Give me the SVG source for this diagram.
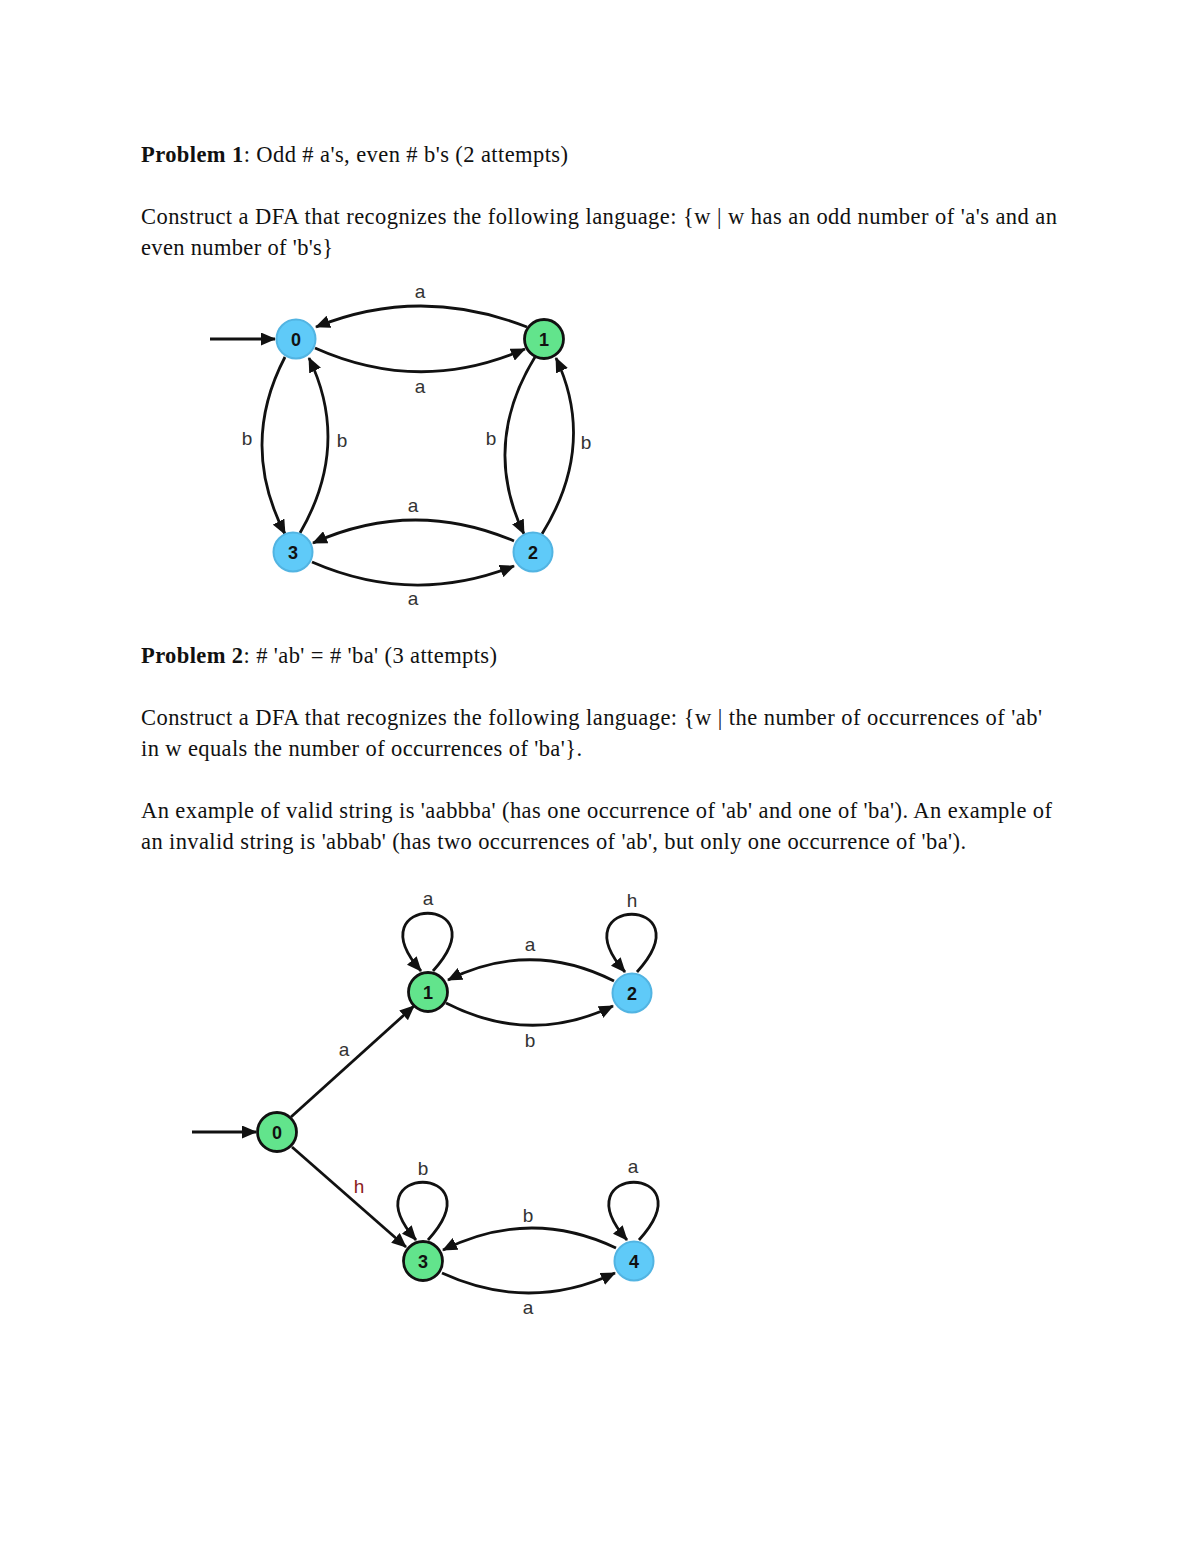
<svg xmlns="http://www.w3.org/2000/svg" width="1200" height="1553" viewBox="0 0 1200 1553">
<style>
.body{font-family:"Liberation Serif","Times New Roman",serif;font-size:22.5px;fill:#111}
.bold{font-weight:bold}
.lbl{font-family:"Liberation Sans",Arial,sans-serif;font-size:19px;fill:#333;text-anchor:middle}
.red{fill:#8b1a1a}
.num{font-family:"Liberation Sans",Arial,sans-serif;font-size:18px;font-weight:bold;fill:#111;text-anchor:middle}
.blue{fill:#5fcaf8;stroke:#52b4e2;stroke-width:2}
.green{fill:#62e48c;stroke:#111;stroke-width:2.8}
.edge{fill:none;stroke:#111;stroke-width:2.8;marker-end:url(#arr)}
</style>
<defs>
<marker id="arr" markerUnits="userSpaceOnUse" markerWidth="15" markerHeight="13" viewBox="0 0 15 13" refX="14" refY="6.5" orient="auto">
<path d="M0,0 L15,6.5 L0,13 Z" fill="#111"/>
</marker>
</defs>
<rect width="1200" height="1553" fill="#fff"/>

<g id="text">
<text class="body" x="141" y="162" textLength="427" lengthAdjust="spacing"><tspan class="bold">Problem 1</tspan>: Odd # a's, even # b's (2 attempts)</text>
<text class="body" x="141" y="224" textLength="916" lengthAdjust="spacing">Construct a DFA that recognizes the following language: {w | w has an odd number of 'a's and an</text>
<text class="body" x="141" y="255" textLength="192" lengthAdjust="spacing">even number of 'b's}</text>
<text class="body" x="141" y="663" textLength="356" lengthAdjust="spacing"><tspan class="bold">Problem 2</tspan>: # 'ab' = # 'ba' (3 attempts)</text>
<text class="body" x="141" y="725" textLength="901" lengthAdjust="spacing">Construct a DFA that recognizes the following language: {w | the number of occurrences of 'ab'</text>
<text class="body" x="141" y="756" textLength="441" lengthAdjust="spacing">in w equals the number of occurrences of 'ba'}.</text>
<text class="body" x="141" y="818" textLength="911" lengthAdjust="spacing">An example of valid string is 'aabbba' (has one occurrence of 'ab' and one of 'ba'). An example of</text>
<text class="body" x="141" y="849" textLength="825" lengthAdjust="spacing">an invalid string is 'abbab' (has two occurrences of 'ab', but only one occurrence of 'ba').</text>
</g>

<g id="connectors">
<!-- Problem 1 -->
<path class="edge" d="M210,339 L275,339"/>
<path class="edge" d="M527,327 Q420,285 316,327"/>
<path class="edge" d="M315,348 Q420,395 525,349"/>
<path class="edge" d="M285,357 Q239,445 285,534"/>
<path class="edge" d="M300,533 Q351,445 309,358"/>
<path class="edge" d="M535,357 Q481,445 524,534"/>
<path class="edge" d="M542,534 Q597,445 556,358"/>
<path class="edge" d="M514,541 Q413,498 313,543"/>
<path class="edge" d="M312,562 Q413,606 514,566"/>
<!-- Problem 2 -->
<path class="edge" d="M192,1132 L256,1132"/>
<path class="edge" d="M291,1117 L414,1006"/>
<path class="edge" d="M292,1147 L406,1247"/>
<path class="edge" d="M433,971 C503,894 353,894 421,971"/>
<path class="edge" d="M637,972 C707,895 557,895 625,972"/>
<path class="edge" d="M428,1240 C498,1163 348,1163 416,1240"/>
<path class="edge" d="M639,1240 C709,1163 559,1163 627,1240"/>
<path class="edge" d="M614,981 Q531,939 448,980"/>
<path class="edge" d="M446,1003 Q530,1046 613,1006"/>
<path class="edge" d="M616,1248 Q530,1207 443,1250"/>
<path class="edge" d="M442,1273 Q529,1313 615,1273"/>
</g>

<g id="edge-labels">
<text class="lbl" x="420" y="298">a</text>
<text class="lbl" x="420" y="393">a</text>
<text class="lbl" x="247" y="445">b</text>
<text class="lbl" x="342" y="447">b</text>
<text class="lbl" x="491" y="445">b</text>
<text class="lbl" x="586" y="449">b</text>
<text class="lbl" x="413" y="512">a</text>
<text class="lbl" x="413" y="605">a</text>
<text class="lbl" x="428" y="905">a</text>
<text class="lbl" x="632" y="907">h</text>
<text class="lbl" x="530" y="951">a</text>
<text class="lbl" x="530" y="1047">b</text>
<text class="lbl" x="344" y="1056">a</text>
<text class="lbl red" x="359" y="1193">h</text>
<text class="lbl" x="423" y="1175">b</text>
<text class="lbl" x="633" y="1173">a</text>
<text class="lbl" x="528" y="1222">b</text>
<text class="lbl" x="528" y="1314">a</text>
</g>

<g id="p1-node-0"><circle class="blue" cx="296" cy="339" r="19.5"/><text class="num" x="296" y="345.5">0</text></g>
<g id="p1-node-1"><circle class="green" cx="544" cy="339" r="19.5"/><text class="num" x="544" y="345.5">1</text></g>
<g id="p1-node-2"><circle class="blue" cx="533" cy="552" r="19.5"/><text class="num" x="533" y="558.5">2</text></g>
<g id="p1-node-3"><circle class="blue" cx="293" cy="552" r="19.5"/><text class="num" x="293" y="558.5">3</text></g>

<g id="p2-node-0"><circle class="green" cx="277" cy="1132" r="19.5"/><text class="num" x="277" y="1138.5">0</text></g>
<g id="p2-node-1"><circle class="green" cx="428" cy="992" r="19.5"/><text class="num" x="428" y="998.5">1</text></g>
<g id="p2-node-2"><circle class="blue" cx="632" cy="993" r="19.5"/><text class="num" x="632" y="999.5">2</text></g>
<g id="p2-node-3"><circle class="green" cx="423" cy="1261" r="19.5"/><text class="num" x="423" y="1267.5">3</text></g>
<g id="p2-node-4"><circle class="blue" cx="634" cy="1261" r="19.5"/><text class="num" x="634" y="1267.5">4</text></g>
</svg>
